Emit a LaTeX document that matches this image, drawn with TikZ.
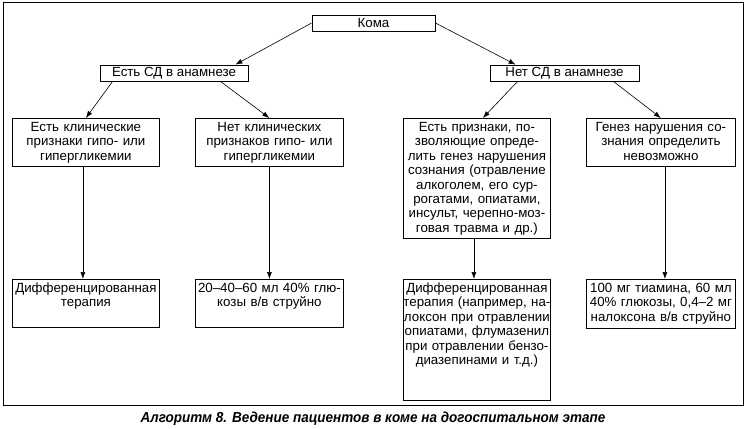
\documentclass[tikz,border=0pt]{standalone}
\usepackage{fontspec}
\setmainfont{Liberation Sans}
\usetikzlibrary{arrows.meta,positioning,calc}

\begin{document}
\begin{tikzpicture}[x=1pt,y=-1pt,
        line/.style = {draw = black, line width=0.6pt, -{Latex[length=7pt,width=5pt]}},
        head/.style = {draw, line width=0.8pt, inner sep=0pt, minimum height=16pt,
            font=\fontsize{13.3}{14.4}\selectfont},
        box/.style 2 args = {draw, line width=0.8pt, anchor=north west, inner sep=0pt,
            text width=#1, align=center, text height=13pt, text depth=#2,
            font=\fontsize{13.3}{14.4}\selectfont}]
        \useasboundingbox (0,0) rectangle (746,428);
        \draw[line width=1pt] (3,3) rectangle (743,405);
        % top levels
        \node[head, minimum width=123pt] (koma) at (373.5,23) {Кома};
        \node[head, minimum width=148pt] (sdyes) at (174,73) {Есть СД в анамнезе};
        \node[head, minimum width=149pt] (sdno) at (564.5,73) {Нет СД в анамнезе};
        % signs
        \node[box={147pt}{35pt}] (yes1) at (12,118)
            {Есть клинические\\признаки гипо- или\\гипергликемии};
        \node[box={148pt}{35pt}] (yes2) at (195,118)
            {Нет клинических\\признаков гипо- или\\гипергликемии};
        \node[box={147pt}{107pt}] (no1) at (403,118)
            {Есть признаки, по-\\зволяющие опреде-\\лить генез нарушения\\сознания (отравление\\алкоголем, его сур-\\рогатами, опиатами,\\инсульт, черепно-моз-\\говая травма и др.)};
        \node[box={149pt}{35pt}] (no2) at (586,118)
            {Генез нарушения со-\\знания определить\\невозможно};
        % treatment
        \node[box={147pt}{35pt}] (tyes1) at (12,279)
            {Дифференцированная\\терапия};
        \node[box={148pt}{35pt}] (tyes2) at (195,279)
            {20–40–60 мл 40\% глю-\\козы в/в струйно};
        \node[box={147pt}{108pt}] (tno1) at (403,279)
            {Дифференцированная\\терапия (например, на-\\локсон при отравлении\\опиатами, флумазенил\\при отравлении бензо-\\диазепинами и т.д.)};
        \node[box={149pt}{36pt}] (tno2) at (586,279)
            {100 мг тиамина, 60 мл\\40\% глюкозы, 0,4–2 мг\\налоксона в/в струйно};
        \node[font=\fontsize{14.5}{16}\selectfont\bfseries\itshape] (caption) at (373,419)
            {\scalebox{0.93}[1]{Алгоритм 8. Ведение пациентов в коме на догоспитальном этапе}};
        % connectors
        \path[line] (koma.west) -- ([xshift=-13pt]sdyes.north east);
        \path[line] (koma.east) -- ([xshift=26pt]sdno.north west);
        \path[line] ([xshift=13pt]sdyes.south west) -- (yes1.north);
        \path[line] ([xshift=-28pt]sdyes.south east) -- (yes2.north);
        \path[line] ([xshift=28pt]sdno.south west) -- ([xshift=6pt]no1.north);
        \path[line] ([xshift=-26pt]sdno.south east) -- (no2.north);
        \foreach \a/\b/\s in {yes1/tyes1/-3, yes2/tyes2/0, no1/tno1/-3, no2/tno2/4}
            \path[line] ([xshift=\s pt]\a.south) -- ([xshift=\s pt]\b.north);
\end{tikzpicture}
\end{document}
